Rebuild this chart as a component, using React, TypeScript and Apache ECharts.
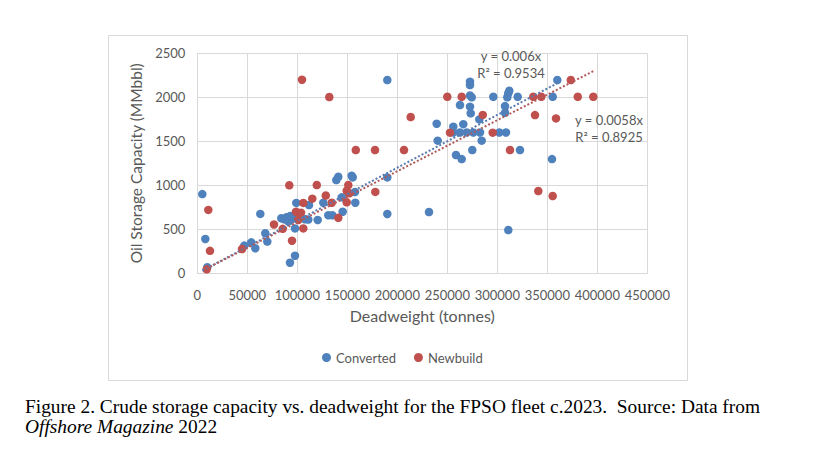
import React, { useEffect, useRef } from "react";
import * as echarts from "echarts";

// Deadweight (tonnes), storage capacity (MMbbl)
const converted: [number, number][] = [
  [5000, 900], [8000, 390], [10000, 70], [47000, 315], [54000, 352], [58000, 285],
  [63000, 675], [68000, 455], [70000, 360], [84000, 625], [87000, 613], [89000, 636],
  [91000, 590], [92700, 650], [94000, 613], [97000, 660], [97700, 510], [97700, 200],
  [92700, 120], [99000, 800], [100000, 640], [107700, 613], [111000, 610], [111700, 776],
  [120400, 606], [126000, 802], [131000, 660], [135000, 660], [139000, 1060], [141000, 1097],
  [144400, 863], [145400, 700], [154400, 1109], [155400, 1090], [158000, 802], [157700, 924],
  [190000, 2196], [190000, 1090], [190000, 674], [231700, 696], [239400, 1700], [240400, 1507],
  [256000, 1666], [258700, 1344], [264400, 1298], [262700, 1912], [266000, 1695], [272700, 2177],
  [272700, 2139], [272700, 2020], [274400, 2000], [272700, 1893], [273400, 1818], [282000, 1749],
  [256000, 1600], [262700, 1600], [269400, 1600], [276000, 1600], [282700, 1600], [284400, 1507],
  [275000, 1401], [296000, 2006], [302000, 1600], [308700, 1600], [307700, 1900], [307700, 1824],
  [310000, 2000], [311000, 2045], [312000, 2074], [320400, 2006], [322700, 1401], [311000, 492],
  [354700, 1298], [355400, 2006], [360000, 2196],
];

const newbuild: [number, number][] = [
  [9400, 45], [11000, 720], [12700, 255], [44700, 276], [76700, 555], [85400, 505],
  [92000, 1000], [94700, 370], [98700, 700], [101000, 606], [103700, 689], [106000, 800],
  [106000, 510], [104700, 2200], [115000, 848], [119500, 1003], [128500, 884], [132000, 2003],
  [134500, 802], [141000, 630], [149400, 938], [151000, 1003], [152000, 909], [149400, 807],
  [158500, 1401], [177700, 1401], [178000, 925], [206700, 1401], [213400, 1776], [250000, 2006],
  [252700, 1598], [264400, 2006], [285500, 1800], [295400, 1598], [312700, 1401], [336000, 2006],
  [337700, 1798], [341000, 935], [344000, 2006], [355400, 878], [358700, 1760], [373500, 2196],
  [380500, 2006], [396000, 2006],
];

// Linear trendlines through origin (slope, x-range of each series)
const convertedSlope = 0.006;
const newbuildSlope = 0.0058;
const convertedTrendX = [5000, 360000];
const newbuildTrendX = [9400, 396000];

const trendLabels = ["y = 0.006x", "R² = 0.9534", "y = 0.0058x", "R² = 0.8925"];
const captionLine1 =
  "Figure 2. Crude storage capacity vs. deadweight for the FPSO fleet c.2023.  Source: Data from";
const captionItalic = "Offshore Magazine";
const captionRest = " 2022";

const BLUE = "#4F81BD";
const RED = "#C0504D";
const GREY = "#595959";
const FONT = "Lato";
const SERIF = "Liberation Serif";

export default function App() {
  const ref = useRef<HTMLDivElement>(null);
  useEffect(() => {
    if (!ref.current) return;
    const chart = echarts.init(ref.current, null, { renderer: "svg" });
    const trendText = (x: number, y: number, text: string) => ({
      type: "text",
      x,
      y,
      z: 10,
      style: { text, fill: GREY, fontSize: 13, fontFamily: FONT, align: "center", verticalAlign: "middle" },
    });
    chart.setOption({
      animation: false,
      textStyle: { fontFamily: FONT },
      grid: { left: 197.3, right: 167.7, top: 53.3, bottom: 193.7, containLabel: false },
      legend: {
        data: ["Converted", "Newbuild"],
        left: 317,
        top: 346,
        icon: "circle",
        itemWidth: 9,
        itemHeight: 9,
        itemGap: 18,
        textStyle: { color: GREY, fontSize: 13, fontFamily: FONT },
      },
      xAxis: {
        type: "value",
        min: 0,
        max: 450000,
        interval: 50000,
        name: "Deadweight (tonnes)",
        nameLocation: "middle",
        nameGap: 34,
        nameTextStyle: { color: GREY, fontSize: 16, fontFamily: FONT },
        axisLine: { show: true, lineStyle: { color: "#d9d9d9" } },
        axisTick: { show: false },
        axisLabel: { color: GREY, fontSize: 13, margin: 15, fontFamily: FONT, formatter: (v: number) => String(v) },
        splitLine: { show: true, lineStyle: { color: "#d9d9d9" } },
      },
      yAxis: {
        type: "value",
        min: 0,
        max: 2500,
        interval: 500,
        name: "Oil Storage Capacity (MMbbl)",
        nameLocation: "middle",
        nameGap: 37,
        nameTextStyle: { color: GREY, fontSize: 15.5, fontFamily: FONT },
        axisLine: { show: false },
        axisTick: { show: false },
        axisLabel: { color: GREY, fontSize: 13, margin: 12, fontFamily: FONT, formatter: (v: number) => String(v) },
        splitLine: { show: true, lineStyle: { color: "#d9d9d9" } },
      },
      series: [
        {
          name: "Converted",
          type: "scatter",
          data: converted,
          symbolSize: 8.5,
          itemStyle: { color: BLUE, opacity: 1 },
          z: 3,
        },
        {
          name: "Newbuild",
          type: "scatter",
          data: newbuild,
          symbolSize: 8.5,
          itemStyle: { color: RED, opacity: 1 },
          z: 3,
        },
        {
          name: "Converted trend",
          type: "line",
          data: convertedTrendX.map((x) => [x, x * convertedSlope]),
          showSymbol: false,
          symbol: "none",
          lineStyle: { color: "#5a7ab0", width: 2, type: [2, 2] },
          z: 4,
        },
        {
          name: "Newbuild trend",
          type: "line",
          data: newbuildTrendX.map((x) => [x, x * newbuildSlope]),
          showSymbol: false,
          symbol: "none",
          lineStyle: { color: "#b05a5a", width: 2, type: [2, 2] },
          z: 4,
        },
      ],
      graphic: [
        {
          type: "rect",
          shape: { x: 108.5, y: 35.5, width: 579, height: 345 },
          style: { fill: "none", stroke: "#d9d9d9", lineWidth: 1 },
          z: -1,
        },
        trendText(511, 55.5, trendLabels[0]),
        trendText(511, 73, trendLabels[1]),
        trendText(609, 120, trendLabels[2]),
        trendText(609, 137, trendLabels[3]),
        {
          type: "text",
          x: 25,
          y: 406,
          style: {
            text: captionLine1,
            fill: "#000",
            fontSize: 19.4,
            fontFamily: SERIF,
            verticalAlign: "middle",
          },
        },
        {
          type: "text",
          x: 25,
          y: 426,
          style: {
            text: "{i|" + captionItalic + "}{n|" + captionRest + "}",
            fill: "#000",
            fontSize: 19.4,
            fontFamily: SERIF,
            verticalAlign: "middle",
            rich: {
              i: { fontStyle: "italic", fontSize: 19.4, fontFamily: SERIF, fill: "#000" },
              n: { fontSize: 19.4, fontFamily: SERIF, fill: "#000" },
            },
          },
        },
      ],
    });
    return () => chart.dispose();
  }, []);
  return (
    <div
      ref={ref}
      style={{ position: "absolute", left: 0, top: 0, width: 815, height: 467, background: "#fff" }}
    />
  );
}
